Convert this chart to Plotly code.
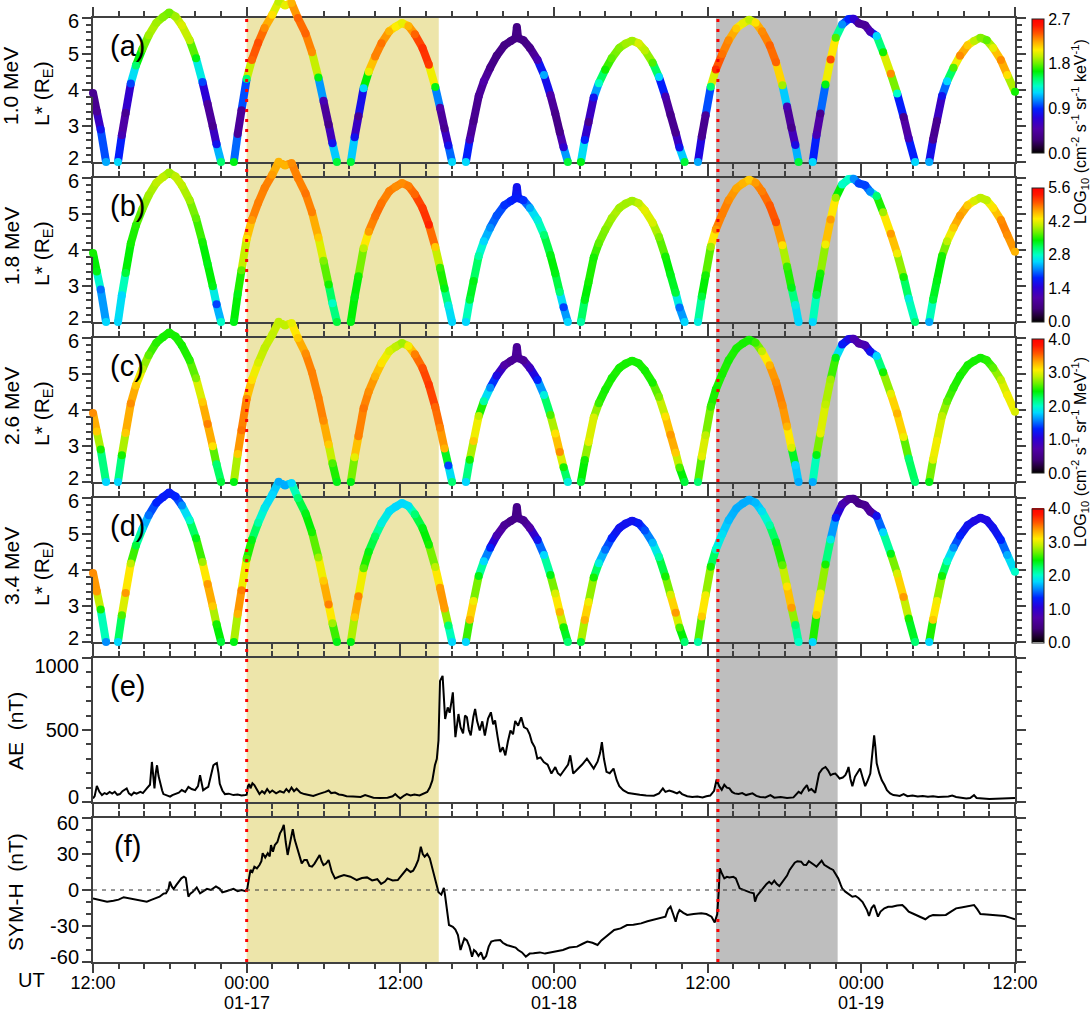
import plotly.graph_objects as go

# ---------------- data (hours since 01-16 12:00 UT) ----------------
ARC_T = [
    [0.0, 0.3, 0.6, 1.02],
    [1.95, 2.25, 2.55, 2.95, 3.35, 3.85, 4.35, 4.95, 5.45, 5.95, 6.45, 6.95, 7.55, 8.05, 8.55, 8.95, 9.35, 9.65, 10.0],
    [11.0, 11.3, 11.6, 12.0, 12.4, 12.9, 13.4, 14.0, 14.5, 15.0, 15.5, 16.0, 16.6, 17.1, 17.6, 18.0, 18.4, 18.7, 19.05],
    [20.13, 20.43, 20.73, 21.13, 21.53, 22.03, 22.53, 23.13, 23.63, 24.13, 24.63, 25.13, 25.73, 26.23, 26.73, 27.1, 27.45, 27.75, 28.04],
    [29.12, 29.42, 29.72, 30.12, 30.52, 31.02, 31.52, 32.12, 32.62, 33.0, 33.1, 33.2, 33.62, 34.12, 34.72, 35.22, 35.72, 36.1, 36.45, 36.75, 37.08],
    [38.1, 38.4, 38.7, 39.1, 39.5, 40.0, 40.5, 41.1, 41.6, 42.1, 42.6, 43.1, 43.7, 44.2, 44.7, 45.1, 45.5, 45.8, 46.2],
    [47.24, 47.54, 47.84, 48.24, 48.64, 49.14, 49.64, 50.24, 50.74, 51.24, 51.74, 52.24, 52.84, 53.34, 53.84, 54.2, 54.55, 54.85, 55.1],
    [56.2, 56.5, 56.8, 57.2, 57.6, 58.0, 58.5, 59.0, 59.4, 59.8, 60.3, 60.7, 61.2, 61.7, 62.3, 62.8, 63.3, 63.7, 64.2],
    [65.3, 65.6, 65.9, 66.3, 66.7, 67.2, 67.7, 68.3, 68.8, 69.3, 69.8, 70.3, 70.9, 71.4, 72.0],
]
ARC_L = [
    [3.92, 3.4, 2.9, 2.0],
    [2.0, 2.74, 3.36, 4.18, 4.68, 5.13, 5.52, 5.87, 6.02, 6.15, 6.04, 5.79, 5.38, 4.88, 4.22, 3.61, 2.99, 2.49, 2.0],
    [2.0, 2.78, 3.44, 4.31, 4.83, 5.31, 5.72, 6.09, 6.45, 6.35, 6.42, 6.0, 5.57, 5.05, 4.35, 3.7, 3.04, 2.52, 2.0],
    [2.0, 2.69, 3.27, 4.05, 4.51, 4.93, 5.30, 5.63, 5.76, 5.86, 5.78, 5.55, 5.17, 4.70, 4.08, 3.51, 2.93, 2.46, 2.0],
    [2.0, 2.62, 3.14, 3.83, 4.24, 4.62, 4.95, 5.24, 5.36, 5.44, 5.75, 5.44, 5.38, 5.17, 4.83, 4.42, 3.86, 3.35, 2.83, 2.41, 2.0],
    [2.0, 2.61, 3.11, 3.79, 4.19, 4.56, 4.88, 5.17, 5.29, 5.37, 5.30, 5.10, 4.76, 4.36, 3.82, 3.31, 2.81, 2.40, 2.0],
    [2.0, 2.71, 3.30, 4.09, 4.57, 5.0, 5.38, 5.71, 5.85, 5.95, 5.87, 5.63, 5.24, 4.77, 4.13, 3.54, 2.95, 2.47, 2.0],
    [2.0, 2.75, 3.35, 4.15, 4.85, 5.45, 5.82, 5.97, 5.98, 5.85, 5.8, 5.62, 5.5, 5.05, 4.45, 3.9, 3.25, 2.65, 2.0],
    [2.0, 2.62, 3.14, 3.83, 4.24, 4.62, 4.95, 5.24, 5.36, 5.45, 5.38, 5.17, 4.83, 4.42, 3.95],
]
LOGFLUX_1P0 = [
    [0.38, 0.41, 0.81, 1.13],
    [1.22, 0.54, 0.38, 0.95, 1.49, 1.78, 1.89, 1.89, 1.84, 1.81, 1.89, 2.0, 1.94, 1.62, 0.95, 0.43, 0.38, 0.81, 1.49],
    [1.62, 0.41, 0.41, 1.49, 2.38, 2.43, 2.3, 2.11, 1.94, 2.03, 2.21, 2.38, 2.38, 2.3, 1.62, 0.54, 0.35, 0.81, 1.57],
    [1.57, 0.81, 0.38, 1.22, 2.03, 2.32, 2.35, 2.21, 2.08, 2.03, 2.21, 2.38, 2.51, 2.48, 1.62, 0.49, 0.38, 0.81, 1.22],
    [1.22, 0.54, 0.35, 0.41, 0.49, 0.35, 0.32, 0.32, 0.32, 0.32, 0.32, 0.32, 0.32, 0.35, 0.54, 1.13, 0.49, 0.35, 0.35, 0.68, 1.57],
    [1.62, 0.89, 0.38, 0.81, 1.35, 1.67, 1.78, 1.84, 1.89, 1.89, 2.0, 1.94, 1.76, 1.22, 0.54, 0.35, 0.38, 0.81, 1.57],
    [1.13, 0.38, 0.41, 1.49, 2.51, 2.35, 2.3, 2.16, 2.03, 1.94, 2.11, 2.3, 2.38, 2.38, 1.89, 0.54, 0.35, 0.76, 1.57],
    [1.22, 0.54, 0.38, 1.62, 2.43, 1.76, 1.08, 0.89, 0.68, 0.41, 0.41, 0.54, 1.22, 1.67, 2.3, 1.35, 0.38, 0.54, 1.22],
    [1.13, 0.41, 0.38, 0.81, 1.22, 1.76, 2.3, 2.16, 1.94, 1.84, 1.78, 2.03, 2.3, 2.11, 1.67],
]
LOGFLUX_1P8 = [
    [3.47, 3.36, 2.13, 2.52],
    [2.52, 2.52, 3.25, 3.47, 3.53, 3.81, 3.92, 4.03, 4.03, 3.92, 4.03, 4.03, 3.92, 3.7, 3.47, 3.36, 3.36, 1.96, 2.8],
    [3.36, 3.36, 3.7, 4.37, 4.7, 4.82, 4.82, 4.7, 4.59, 4.59, 4.76, 4.82, 4.87, 4.82, 4.48, 3.81, 3.47, 2.8, 3.25],
    [3.36, 3.36, 3.47, 4.03, 4.7, 4.87, 4.87, 4.82, 4.76, 4.76, 4.82, 4.93, 5.15, 5.26, 4.48, 3.58, 3.36, 2.69, 2.52],
    [2.52, 3.25, 3.36, 2.91, 2.52, 2.24, 2.02, 1.9, 1.85, 1.79, 1.68, 1.79, 1.9, 2.35, 2.69, 3.08, 3.36, 3.36, 3.08, 1.96, 2.52],
    [2.91, 3.36, 3.47, 3.47, 3.7, 3.81, 3.92, 3.92, 3.92, 3.92, 4.03, 4.2, 4.14, 3.81, 3.47, 3.36, 3.25, 2.13, 2.52],
    [2.69, 3.25, 3.47, 3.92, 4.7, 4.82, 4.76, 4.65, 4.59, 4.48, 4.7, 4.82, 4.98, 5.04, 4.37, 3.58, 3.36, 2.69, 2.52],
    [2.52, 3.25, 3.47, 4.26, 4.7, 3.92, 2.8, 2.8, 2.24, 1.96, 1.96, 2.24, 3.08, 3.92, 4.7, 4.26, 3.47, 2.69, 3.08],
    [2.35, 3.25, 3.36, 3.47, 4.03, 4.48, 4.7, 4.48, 4.14, 4.03, 4.03, 4.37, 4.76, 4.76, 4.59],
]
LOGFLUX_2P6 = [
    [3.4, 3.2, 2.48, 1.8],
    [1.8, 2.48, 3.2, 3.4, 3.2, 2.88, 2.64, 2.52, 2.48, 2.48, 2.48, 2.48, 2.52, 2.72, 3.2, 3.44, 3.12, 2.2, 2.32],
    [2.4, 3.2, 3.48, 3.4, 3.12, 2.96, 2.88, 2.88, 2.88, 2.88, 3.0, 3.2, 3.4, 3.44, 3.44, 3.4, 3.2, 2.6, 2.4],
    [2.4, 3.0, 3.44, 3.48, 3.4, 3.28, 3.12, 2.96, 2.88, 2.8, 3.04, 3.44, 3.6, 3.68, 3.52, 3.44, 3.28, 1.4, 2.2],
    [1.8, 2.48, 3.2, 2.88, 2.08, 1.6, 1.12, 0.72, 0.6, 0.6, 0.6, 0.6, 0.6, 0.88, 1.32, 1.92, 2.6, 3.12, 3.4, 2.48, 1.92],
    [2.32, 2.48, 3.0, 2.96, 2.56, 2.48, 2.48, 2.48, 2.48, 2.48, 2.48, 2.48, 2.48, 2.72, 3.12, 3.36, 3.2, 2.6, 2.32],
    [2.2, 3.0, 2.88, 2.56, 2.48, 2.48, 2.48, 2.48, 2.48, 2.48, 2.56, 2.88, 3.28, 3.4, 3.4, 3.28, 2.96, 1.8, 1.68],
    [1.68, 2.4, 3.0, 2.88, 2.8, 2.4, 1.28, 1.12, 0.8, 0.72, 0.8, 1.2, 1.8, 2.48, 3.0, 3.28, 3.04, 2.2, 2.2],
    [2.4, 3.0, 3.04, 2.88, 2.64, 2.52, 2.48, 2.48, 2.48, 2.48, 2.52, 2.64, 2.88, 3.04, 2.96],
]
LOGFLUX_3P4 = [
    [3.4, 3.36, 2.48, 1.6],
    [1.8, 2.6, 3.36, 2.88, 2.32, 1.88, 1.52, 1.32, 1.28, 1.28, 1.32, 1.6, 2.0, 2.4, 2.8, 3.36, 3.2, 2.48, 2.32],
    [2.4, 3.28, 3.44, 2.6, 2.4, 2.08, 1.88, 1.8, 1.68, 1.68, 1.8, 2.2, 2.4, 2.48, 2.8, 3.2, 3.44, 2.8, 2.4],
    [2.4, 3.2, 3.44, 2.64, 2.4, 2.24, 1.92, 1.84, 1.8, 1.8, 1.84, 2.2, 2.4, 2.48, 2.88, 3.36, 3.36, 2.2, 1.8],
    [1.8, 3.28, 3.04, 2.4, 1.8, 1.32, 0.8, 0.6, 0.52, 0.52, 0.52, 0.52, 0.56, 0.72, 1.2, 1.8, 2.4, 2.96, 3.28, 2.48, 2.2],
    [2.32, 3.28, 3.04, 2.48, 1.92, 1.52, 1.32, 1.2, 1.2, 1.2, 1.28, 1.44, 1.72, 2.08, 2.48, 2.96, 3.36, 2.6, 2.2],
    [2.08, 3.2, 3.04, 2.48, 2.0, 1.84, 1.72, 1.68, 1.68, 1.68, 1.72, 1.84, 2.08, 2.4, 2.64, 3.12, 3.36, 2.2, 2.0],
    [1.8, 3.2, 3.04, 2.48, 1.88, 1.32, 0.8, 0.6, 0.52, 0.48, 0.56, 0.64, 1.2, 1.8, 2.4, 2.96, 3.36, 2.48, 2.2],
    [1.8, 3.2, 3.04, 2.48, 2.0, 1.6, 1.32, 1.2, 1.12, 1.12, 1.12, 1.2, 1.32, 1.68, 2.0],
]
ENERGY_LABELS = ['1.0 MeV', '1.8 MeV', '2.6 MeV', '3.4 MeV']
PANEL_LETTERS = ['(a)', '(b)', '(c)', '(d)', '(e)', '(f)']
CBAR_MAX = [2.7, 5.6, 4.0, 4.0]
CBAR_TICKS = [[0.0, 0.9, 1.8, 2.7], [0.0, 1.4, 2.8, 4.2, 5.6],
              [0.0, 1.0, 2.0, 3.0, 4.0], [0.0, 1.0, 2.0, 3.0, 4.0]]
CBAR_TITLES = ['LOG<sub>10</sub> (cm<sup>-2</sup> s<sup>-1</sup> sr<sup>-1</sup> keV<sup>-1</sup>)',
               'LOG<sub>10</sub> (cm<sup>-2</sup> s<sup>-1</sup> sr<sup>-1</sup> MeV<sup>-1</sup>)']

AE_T = [0.0, 0.13, 0.3, 0.5, 0.7, 0.9, 1.08, 1.3, 1.5, 1.7, 1.9, 2.1, 2.3, 2.63, 2.8, 3.0, 3.2, 3.4, 3.7, 3.9,
        4.2, 4.45, 4.6, 4.7, 4.8, 4.9, 5.0, 5.12, 5.24, 5.4, 5.5, 5.8, 6.02, 6.2, 6.4, 6.7, 6.93, 7.2, 7.45, 7.7,
        7.97, 8.2, 8.36, 8.5, 8.6, 8.8, 9.0, 9.2, 9.4, 9.55, 9.67, 9.8, 9.9, 10.1, 10.3, 10.6, 10.97, 11.3, 11.6, 11.9,
        12.0, 12.1, 12.2, 12.3, 12.45, 12.6, 12.8, 13.0, 13.2, 13.4, 13.6, 13.8, 14.0, 14.3, 14.6, 14.9, 15.1, 15.3, 15.5, 15.7,
        15.9, 16.2, 16.5, 16.8, 17.2, 17.6, 17.9, 18.15, 18.4, 18.6, 18.9, 19.2, 19.5, 19.8, 20.3, 20.9, 21.25, 21.6, 21.9, 22.4,
        23.0, 23.4, 23.6, 23.8, 24.0, 24.3, 24.5, 24.8, 25.1, 25.5, 25.8, 26.1, 26.3, 26.5, 26.7, 26.85, 26.98, 27.1, 27.3, 27.5,
        27.7, 27.85, 28.0, 28.1, 28.3, 28.54, 28.7, 28.9, 29.05, 29.2, 29.35, 29.5, 29.7, 29.84, 30.0, 30.2, 30.4, 30.6, 30.85, 31.07,
        31.25, 31.4, 31.6, 31.8, 32.0, 32.2, 32.4, 32.6, 32.8, 32.97, 33.2, 33.44, 33.65, 33.9, 34.1, 34.27, 34.5, 34.7, 34.95, 35.2,
        35.5, 35.8, 35.95, 36.1, 36.3, 36.5, 36.7, 36.9, 37.1, 37.27, 37.4, 37.5, 37.7, 37.9, 38.2, 38.57, 38.8, 39.1, 39.4, 39.6,
        39.74, 39.9, 40.1, 40.35, 40.65, 40.8, 40.9, 41.1, 41.4, 41.8, 42.2, 42.7, 43.2, 43.8, 44.2, 44.5, 44.7, 45.0, 45.3, 45.6,
        45.8, 46.0, 46.4, 46.8, 47.2, 47.6, 47.9, 48.2, 48.5, 48.7, 48.9, 49.1, 49.3, 49.5, 49.7, 49.9, 50.1, 50.4, 50.7, 51.0,
        51.3, 51.5, 51.8, 52.1, 52.5, 52.9, 53.2, 53.7, 54.2, 54.7, 55.1, 55.3, 55.5, 55.75, 55.9, 56.1, 56.4, 56.55, 56.7, 56.95,
        57.2, 57.4, 57.6, 57.8, 57.97, 58.15, 58.3, 58.55, 58.75, 58.9, 59.0, 59.15, 59.3, 59.5, 59.7, 59.9, 60.1, 60.3, 60.5, 60.7,
        60.85, 61.0, 61.1, 61.2, 61.4, 61.6, 61.8, 62.0, 62.25, 62.5, 62.8, 63.0, 63.3, 63.6, 64.0, 64.4, 64.8, 65.2, 65.6, 66.0,
        66.4, 66.8, 67.1, 67.4, 67.8, 68.2, 68.5, 68.8, 69.0, 69.5, 70.0, 70.5, 71.0, 71.5, 72.0]
AE_V = [25, 41, 112, 71, 48, 62, 55, 70, 58, 71, 50, 55, 75, 94, 60, 48, 66, 58, 71, 62,
        94, 120, 278, 160, 94, 200, 255, 180, 126, 80, 55, 45, 37, 48, 55, 65, 83, 70, 105, 90,
        82, 110, 186, 120, 82, 95, 105, 180, 255, 265, 271, 200, 126, 80, 55, 58, 48, 52, 45, 48,
        50, 110, 124, 95, 130, 118, 90, 55, 75, 60, 90, 65, 80, 60, 75, 65, 90, 70, 100, 75,
        92, 65, 55, 50, 42, 55, 62, 70, 80, 62, 66, 52, 48, 40, 38, 35, 48, 36, 30, 28,
        30, 40, 55, 38, 25, 45, 55, 45, 52, 45, 55, 70, 100, 150, 255, 300, 427, 841, 876, 577,
        657, 620, 700, 761, 450, 611, 520, 476, 600, 588, 500, 462, 590, 646, 560, 497, 560, 462, 580, 623,
        540, 566, 450, 347, 380, 324, 420, 497, 470, 563, 530, 588, 520, 508, 470, 416, 380, 301, 310, 278,
        260, 198, 220, 243, 200, 186, 210, 232, 260, 324, 250, 198, 215, 232, 260, 301, 270, 232, 280, 340,
        416, 300, 209, 200, 232, 180, 151, 110, 82, 62, 55, 50, 45, 44, 60, 94, 70, 80, 71, 60,
        71, 55, 40, 35, 38, 32, 40, 45, 78, 156, 110, 85, 120, 100, 95, 70, 60, 55, 62, 48,
        55, 60, 42, 35, 32, 48, 30, 35, 28, 32, 71, 60, 90, 117, 80, 90, 64, 120, 198, 230,
        243, 220, 186, 195, 198, 180, 163, 170, 186, 215, 243, 160, 110, 175, 200, 232, 170, 110, 150, 198,
        330, 462, 380, 269, 200, 151, 120, 82, 60, 48, 45, 42, 55, 40, 45, 38, 42, 36, 40, 35,
        37, 38, 45, 35, 30, 25, 28, 48, 28, 22, 20, 22, 24, 26, 28]

SYMH_T = [0.0, 0.5, 1.1, 1.6, 2.0, 2.4, 2.9, 3.4, 3.9, 4.2, 4.6, 4.9, 5.2, 5.5, 5.7, 5.9, 6.0, 6.15, 6.3, 6.5,
          6.75, 6.9, 7.1, 7.25, 7.35, 7.45, 7.6, 7.8, 8.0, 8.1, 8.36, 8.6, 8.9, 9.2, 9.6, 9.9, 10.1, 10.4, 10.7, 10.97,
          11.3, 11.6, 11.9, 12.0, 12.05, 12.15, 12.3, 12.45, 12.6, 12.8, 13.0, 13.15, 13.25, 13.45, 13.65, 13.8, 13.9, 14.05, 14.2, 14.4,
          14.6, 14.75, 14.9, 15.05, 15.2, 15.4, 15.6, 15.75, 15.9, 16.1, 16.3, 16.5, 16.7, 16.9, 17.1, 17.3, 17.5, 17.7, 17.85, 18.0,
          18.2, 18.4, 18.65, 18.9, 19.2, 19.6, 20.1, 20.6, 21.0, 21.4, 21.8, 22.2, 22.5, 22.8, 23.0, 23.4, 23.8, 24.1, 24.5, 24.8,
          25.0, 25.2, 25.4, 25.6, 25.75, 25.9, 26.1, 26.3, 26.5, 26.7, 26.98, 27.2, 27.4, 27.5, 27.6, 27.8, 28.1, 28.3, 28.5, 28.7,
          28.85, 29.0, 29.2, 29.4, 29.6, 29.75, 29.9, 30.1, 30.3, 30.5, 30.7, 30.9, 31.1, 31.4, 31.8, 32.0, 32.3, 32.7, 33.0, 33.2,
          33.5, 33.8, 34.1, 34.4, 34.9, 35.3, 35.7, 36.2, 36.7, 37.2, 37.8, 38.2, 38.6, 39.0, 39.4, 39.7, 39.9, 40.3, 40.7, 41.2,
          41.7, 42.2, 42.8, 43.3, 43.7, 44.1, 44.5, 44.7, 44.9, 45.1, 45.3, 45.5, 45.65, 45.8, 46.1, 46.4, 46.9, 47.5, 47.9, 48.3,
          48.55, 48.75, 48.85, 48.95, 49.1, 49.3, 49.5, 49.7, 50.0, 50.2, 50.5, 50.8, 51.0, 51.3, 51.6, 51.7, 51.85, 52.0, 52.2, 52.4,
          52.6, 52.8, 53.0, 53.2, 53.4, 53.6, 53.8, 54.0, 54.2, 54.4, 54.6, 54.8, 55.0, 55.3, 55.5, 55.7, 55.9, 56.1, 56.3, 56.5,
          56.7, 56.9, 57.1, 57.3, 57.55, 57.8, 58.0, 58.2, 58.4, 58.5, 58.75, 59.0, 59.3, 59.55, 59.8, 60.1, 60.3, 60.45, 60.6, 60.8,
          61.0, 61.15, 61.3, 61.5, 61.8, 62.1, 62.4, 62.8, 63.2, 63.45, 63.7, 64.1, 64.5, 65.0, 65.3, 65.6, 66.1, 66.6, 67.0, 67.4,
          67.8, 68.1, 68.5, 68.8, 69.05, 69.3, 69.8, 70.4, 70.8, 71.2, 71.6, 72.0]
SYMH_V = [-7, -8, -9.7, -9, -8, -6, -7, -8, -9, -9.7, -8, -7, -5.6, -3, -2.8, 1, 6.9, 3, 0.8, 4,
          8, 9.7, 11.1, 10, 2, -5.6, -3, -1.4, 1, 2.2, -2.8, -1, 1, 0, 3, 1, -2, -1, 0, 1,
          -1, 0, -1, 0.5, 1.2, 8, 16.7, 15, 19.4, 18, 20.8, 24, 30.6, 27, 30.6, 28, 37.5, 32, 37.5, 40,
          47.2, 50, 54.2, 40, 29.2, 40, 50.6, 42, 36.1, 30, 22.2, 25, 25, 20, 19.4, 22, 26, 29.2, 24, 20.8,
          22, 25, 15, 9.7, 11, 12.5, 11.1, 8.3, 10, 10.5, 8, 9, 5, 7, 9.7, 8, 8.3, 12, 17.5, 15,
          16.1, 20, 25, 36.1, 30, 27.8, 30, 26.4, 18, 8.3, -1.9, -3.9, 1.7, -5, -13.9, -29.2, -30.6, -33, -37.5, -50,
          -45, -40.3, -42, -47.2, -55.6, -50, -51.4, -55, -52, -57.8, -55, -47.2, -43, -42, -41.7, -44, -45.8, -47, -48, -50,
          -52, -55.6, -53, -52.8, -52, -53, -52.2, -51, -50, -48, -47.2, -45, -43, -44, -45.8, -42, -40.3, -37, -33.3, -32,
          -29.2, -29, -27.8, -26, -25, -23.6, -23, -22.2, -16, -13.9, -20, -26.4, -20, -16.7, -19, -20.8, -20, -19.4, -20, -22.2,
          -27, -20, -3, 18, 14, 9.7, 11, 10.5, 11, 9.7, 1.4, 0, -0.6, -2, -2.8, -9.7, -5, -2.8, 0, 2.8,
          5, 6.9, 5, 7.8, 5, 3.3, 6, 8.3, 12, 16.7, 20, 22.8, 24, 23.6, 21, 20.8, 24, 22.8, 21, 19.4,
          22, 24.4, 21, 19.4, 18, 16.7, 13, 9.7, 4, 1.4, -1.4, -3, -5.6, -5, -6.9, -10, -13.9, -17, -21.7, -15,
          -12.5, -18, -22.2, -18, -15.3, -14, -13.9, -13, -12.5, -15, -18, -20, -22.2, -24.4, -22, -20.8, -21, -20.8, -18, -15.3,
          -14.5, -13.9, -13, -12.5, -16, -20, -20.5, -20.8, -21, -21.7, -23, -24.4]

X_TICKVALS = [0, 12, 24, 36, 48, 60, 72]
X_TICKTEXT = ['12:00', '00:00', '12:00', '00:00', '12:00', '00:00', '12:00']
DATE_POS = [12, 36, 60]
DATE_TEXT = ['01-17', '01-18', '01-19']
EVENT_LINES = [12.0, 48.8]
SHADE_KHAKI = [12.0, 27.0]
SHADE_GRAY = [48.65, 58.15]

# ---------------- colour table (IDL-like rainbow) ----------------
CSCALE = [[0.0, '#000000'], [0.04, '#1e0030'], [0.10, '#40007a'], [0.18, '#5000a8'], [0.26, '#2a00d8'],
          [0.33, '#0020ff'], [0.39, '#0080ff'], [0.45, '#00d8ff'], [0.50, '#00ffc8'], [0.56, '#00ff60'],
          [0.61, '#00f000'], [0.67, '#70f000'], [0.72, '#c0f000'], [0.77, '#ffee00'], [0.83, '#ffa800'],
          [0.89, '#ff5800'], [0.95, '#ff1800'], [1.0, '#ff0000']]


def hex2rgb(h):
    h = h.lstrip('#')
    return tuple(int(h[i:i + 2], 16) for i in (0, 2, 4))


def cmap(f):
    f = min(max(f, 0.0), 1.0)
    for (a, ca), (b, cb) in zip(CSCALE[:-1], CSCALE[1:]):
        if a <= f <= b:
            w = 0 if b == a else (f - a) / (b - a)
            r1, g1, b1 = hex2rgb(ca)
            r2, g2, b2 = hex2rgb(cb)
            return 'rgb(%d,%d,%d)' % (r1 + w * (r2 - r1), g1 + w * (g2 - g1), b1 + w * (b2 - b1))
    return 'rgb(255,0,0)'


# ---------------- geometry ----------------
W, H = 1092, 1014
ML, MR = 93, 77
PW = W - ML - MR
TOPS = [18, 178, 338, 498, 658, 818]
PH = 144
PX_PER_L = PH / 4.0
UP, DOWN = 18, 6
FONT = 'Liberation Sans, Arial, Helvetica, sans-serif'
AXC = '#404040'


def ydom(top, up=0, down=0):
    return [1 - (top + PH + down) / H, 1 - (top - up) / H]


def px2x(px):
    return (px - ML) / PW


def px2y(py):
    return 1 - py / H


def xid(i):
    return 'x' if i == 0 else 'x%d' % (i + 1)


def yid(i):
    return 'y' if i == 0 else 'y%d' % (i + 1)


# label-only overlay axes: (axis number, base panel, range, label positions, label texts)
# labels at the frame ends are nudged inward a few pixels, as in the original figure
LABEL_AXES = [(13 + p, p, [2, 6], [2.12, 3, 4, 5, 5.92], ['2', '3', '4', '5', '6']) for p in range(4)]
LABEL_AXES += [(11, 4, [0, 1000], [35, 500, 945], ['0', '500', '1000']),
               (12, 5, [-60, 60], [-56, -30, 0, 30, 56], ['-60', '-30', '0', '30', '60'])]

fig = go.Figure()

# empty traces so every framed / label subplot is drawn
for i in range(6):
    fig.add_trace(go.Scatter(x=[None], y=[None], xaxis=xid(i), yaxis=yid(i), showlegend=False, hoverinfo='skip'))
for num, base, _, _, _ in LABEL_AXES:
    fig.add_trace(go.Scatter(x=[None], y=[None], xaxis=xid(base), yaxis='y%d' % num,
                             showlegend=False, hoverinfo='skip'))

FLUXES = [LOGFLUX_1P0, LOGFLUX_1P8, LOGFLUX_2P6, LOGFLUX_3P4]
CB_CENTERS = [86, 254.5, 406, 575.5]
NB = 60

for p in range(4):
    xa = xid(p)
    ya = 'y%d' % (p + 7)
    vmax = CBAR_MAX[p]
    flux = FLUXES[p]
    bins = {}
    for t, L, v in zip(ARC_T, ARC_L, flux):
        for i in range(len(t) - 1):
            val = 0.5 * (v[i] + v[i + 1])
            b = min(NB - 1, int(val / vmax * NB))
            xs, ys = bins.setdefault(b, ([], []))
            xs.extend([t[i], t[i + 1], None])
            ys.extend([L[i], L[i + 1], None])
    for b in sorted(bins):
        xs, ys = bins[b]
        fig.add_trace(go.Scatter(x=xs, y=ys, mode='lines', xaxis=xa, yaxis=ya,
                                 line=dict(color=cmap((b + 0.5) / NB), width=8),
                                 hoverinfo='skip', showlegend=False))
    allt = [x for arc in ARC_T for x in arc]
    allL = [x for arc in ARC_L for x in arc]
    allv = [x for arc in flux for x in arc]
    fig.add_trace(go.Scatter(
        x=allt, y=allL, mode='markers', xaxis=xa, yaxis=ya, showlegend=False, cliponaxis=False,
        marker=dict(symbol='circle', size=8, color=allv, cmin=0, cmax=vmax,
                    colorscale=[[s, cmap(s)] for s, _ in CSCALE], line=dict(width=0),
                    colorbar=dict(x=px2x(1032), xanchor='left', xpad=0, y=px2y(CB_CENTERS[p]),
                                  yanchor='middle', ypad=0, len=134, lenmode='pixels',
                                  thickness=12, thicknessmode='pixels',
                                  tickmode='array', tickvals=CBAR_TICKS[p],
                                  ticktext=['%.1f' % v for v in CBAR_TICKS[p]],
                                  ticks='', tickfont=dict(size=16, family=FONT, color='black'),
                                  outlinewidth=1, outlinecolor='#222')),
        hovertemplate='%{x:.2f} h, L*=%{y:.2f}, %{marker.color:.2f}<extra></extra>'))

fig.add_trace(go.Scatter(x=AE_T, y=AE_V, mode='lines', xaxis='x5', yaxis='y5',
                         line=dict(color='black', width=2), showlegend=False))
fig.add_trace(go.Scatter(x=SYMH_T, y=SYMH_V, mode='lines', xaxis='x6', yaxis='y6',
                         line=dict(color='black', width=2), showlegend=False))

layout = dict(width=W, height=H, margin=dict(l=ML, r=MR, t=0, b=0, autoexpand=False),
              paper_bgcolor='white', plot_bgcolor='rgba(0,0,0,0)', showlegend=False,
              font=dict(family=FONT, size=20, color='black'))

x_minor = [v for v in range(0, 73, 2) if v % 12 != 0]
common_ax = dict(visible=True, showline=True, mirror='ticks', linecolor=AXC, linewidth=1.5,
                 ticks='outside', ticklen=9, tickwidth=1.5, tickcolor=AXC,
                 showgrid=False, zeroline=False, tickfont=dict(size=20, family=FONT, color='black'))
for i in range(6):
    xname = 'xaxis' if i == 0 else 'xaxis%d' % (i + 1)
    yname = 'yaxis' if i == 0 else 'yaxis%d' % (i + 1)
    layout[xname] = dict(common_ax, domain=[0, 1], range=[0, 72], anchor=yid(i),
                         tickmode='array', tickvals=X_TICKVALS, ticktext=X_TICKTEXT,
                         showticklabels=(i == 5), tickfont=dict(size=18, family=FONT, color='black'),
                         ticklabelstandoff=-5,
                         minor=dict(tickmode='array', tickvals=x_minor, ticks='outside', ticklen=5,
                                    tickwidth=1.5, tickcolor=AXC))
    if i < 4:
        ymaj = [2, 3, 4, 5, 6]
        ymin = [round(2 + 0.2 * k, 1) for k in range(1, 20) if k % 5 != 0]
        yr = [2, 6]
    elif i == 4:
        ymaj = [0, 500, 1000]
        ymin = [v for v in range(100, 1000, 100) if v != 500]
        yr = [0, 1000]
    else:
        ymaj = [-60, -30, 0, 30, 60]
        ymin = [v for v in range(-50, 60, 10) if v % 30 != 0]
        yr = [-60, 60]
    layout[yname] = dict(common_ax, domain=ydom(TOPS[i]), range=yr, anchor=xid(i),
                         tickmode='array', tickvals=ymaj, showticklabels=False,
                         minor=dict(tickmode='array', tickvals=ymin, ticks='outside', ticklen=5,
                                    tickwidth=1.5, tickcolor=AXC))

for num, base, rng, pos, txt in LABEL_AXES:
    layout['yaxis%d' % num] = dict(overlaying=yid(base), anchor=xid(base), side='left', range=rng,
                                   tickmode='array', tickvals=pos, ticktext=txt, ticks='outside', ticklen=9,
                                   tickcolor='rgba(0,0,0,0)', showline=False, showgrid=False, zeroline=False,
                                   tickfont=dict(size=20, family=FONT, color='black'))

# hidden overlay axes for the L* tracks so they can extend beyond the frames
for p in range(4):
    layout['yaxis%d' % (p + 7)] = dict(domain=ydom(TOPS[p], UP, DOWN),
                                       range=[2 - DOWN / PX_PER_L, 6 + UP / PX_PER_L],
                                       visible=False, anchor=xid(p))

shapes = []
yb, yt = px2y(TOPS[5] + PH), px2y(TOPS[0])
shapes.append(dict(type='rect', xref='x', yref='paper', x0=SHADE_KHAKI[0], x1=SHADE_KHAKI[1],
                   y0=yb, y1=yt, fillcolor='#EDE5AA', line=dict(width=0), layer='below'))
shapes.append(dict(type='rect', xref='x', yref='paper', x0=SHADE_GRAY[0], x1=SHADE_GRAY[1],
                   y0=yb, y1=yt, fillcolor='#BEBEBE', line=dict(width=0), layer='below'))
for xv in EVENT_LINES:
    shapes.append(dict(type='line', xref='x', yref='paper', x0=xv, x1=xv, y0=yb, y1=yt,
                       line=dict(color='#FF0000', width=3, dash='3px,7px'), layer='above'))
shapes.append(dict(type='line', xref='x6', yref='y6', x0=0, x1=72, y0=0, y1=0,
                   line=dict(color='#333333', width=1.2, dash='4px,5px'), layer='above'))
layout['shapes'] = shapes

ann = []
rot = dict(textangle=-90, showarrow=False, xanchor='center', yanchor='middle', xref='paper', yref='paper')
for p in range(4):
    ann.append(dict(rot, text=ENERGY_LABELS[p], x=px2x(11), y=px2y(TOPS[p] + 68),
                    font=dict(size=21, family=FONT, color='black')))
    ann.append(dict(rot, text='L* (R<sub>E</sub>)', x=px2x(43), y=px2y(TOPS[p] + 76),
                    font=dict(size=21, family=FONT, color='black')))
ann.append(dict(rot, text='AE\u00a0\u00a0(nT)', x=px2x(15), y=px2y(TOPS[4] + 73),
                font=dict(size=21, family=FONT, color='black')))
ann.append(dict(rot, text='SYM-H\u00a0\u00a0(nT)', x=px2x(15), y=px2y(TOPS[5] + 74),
                font=dict(size=21, family=FONT, color='black')))
for i in range(6):
    ann.append(dict(text=PANEL_LETTERS[i], xref='paper', yref='paper', x=px2x(127), y=px2y(TOPS[i] + 28),
                    showarrow=False, xanchor='center', yanchor='middle',
                    font=dict(size=29, family=FONT, color='black')))
ann.append(dict(rot, text=CBAR_TITLES[0], x=px2x(1080), y=px2y(132),
                font=dict(size=16, family=FONT, color='black')))
ann.append(dict(rot, text=CBAR_TITLES[1], x=px2x(1080), y=px2y(452),
                font=dict(size=16, family=FONT, color='black')))
for xv, txt in zip(DATE_POS, DATE_TEXT):
    ann.append(dict(text=txt, xref='x6', yref='paper', x=xv, y=px2y(1003), showarrow=False,
                    xanchor='center', yanchor='middle', font=dict(size=18, family=FONT, color='black')))
ann.append(dict(text='UT', xref='paper', yref='paper', x=px2x(31), y=px2y(980), showarrow=False,
                xanchor='center', yanchor='middle', font=dict(size=20, family=FONT, color='black')))
layout['annotations'] = ann

fig.update_layout(layout)
fig.write_html('out.html')
